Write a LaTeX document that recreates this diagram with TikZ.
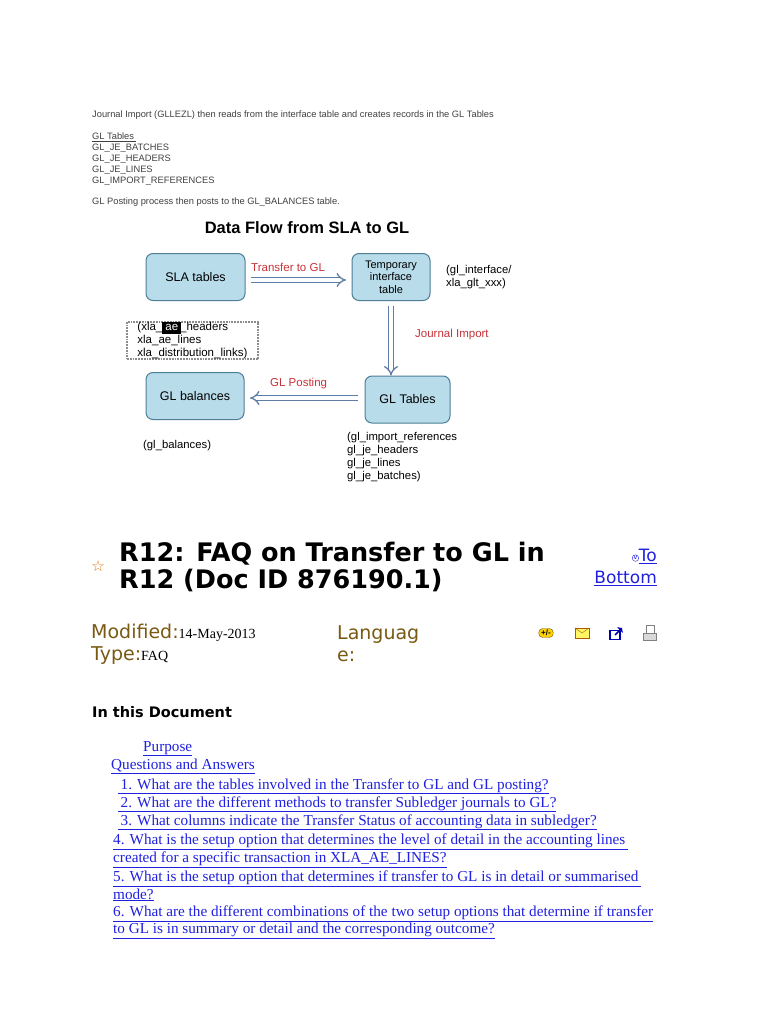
\documentclass[tikz,border=0pt]{standalone}
\usepackage{fontspec}
\setmainfont{Liberation Serif}
\newfontfamily\arialf{Liberation Sans}
\newfontfamily\dejaf{DejaVu Sans}
\usetikzlibrary{arrows.meta}
\definecolor{boxfill}{HTML}{B8DCEA}
\definecolor{boxline}{HTML}{4D7F97}
\definecolor{arr}{HTML}{5E7EA6}
\definecolor{redl}{HTML}{C8333A}
\definecolor{brown}{HTML}{7A5A12}
\definecolor{linkb}{HTML}{2020E0}
\begin{document}
\begin{tikzpicture}[x=1pt,y=-1pt,
  tbox/.style={draw=boxline,line width=1pt,fill=boxfill,rounded corners=7pt,align=center,font=\arialf\fontsize{12.5}{14}\selectfont},
  lbl/.style={anchor=west,inner sep=0pt,font=\arialf\fontsize{11.3}{13}\selectfont,align=left},
  red/.style={lbl,text=redl,font=\arialf\fontsize{11.5}{13}\selectfont},
  small/.style={anchor=west,inner sep=0pt,font=\arialf\fontsize{9.3}{11}\selectfont,text=black!75,align=left},
  dbl/.style={draw=arr,double=white,double distance=3.5pt,line width=1.3pt,-{Implies}},
  lnk/.style={anchor=base west,inner sep=0pt,font=\fontsize{15.2}{17.5}\selectfont,text=linkb,align=left},
  lnkm/.style={lnk,anchor=west}]
\useasboundingbox[fill=white] (0,0) rectangle (768,1024);
% top text
\node[small] (t1) at (92,115) {Journal Import (GLLEZL) then reads from the interface table and creates records in the GL Tables};
\node[small] (t2) at (92,159) {\underline{GL Tables\,}\\GL\_JE\_BATCHES\\GL\_JE\_HEADERS\\GL\_JE\_LINES\\GL\_IMPORT\_REFERENCES};
\node[small] (t3) at (92,202) {GL Posting process then posts to the GL\_BALANCES table.};
\node[font=\arialf\bfseries\fontsize{16.5}{18}\selectfont] (title) at (307,228) {Data Flow from SLA to GL};
% boxes
\node[tbox,minimum width=99pt,minimum height=47pt] (sla) at (195.5,277) {SLA tables};
\node[tbox,minimum width=78pt,minimum height=47pt,font=\arialf\fontsize{11}{12.5}\selectfont] (tmp) at (391,277) {Temporary\\interface\\table};
\node[tbox,minimum width=98pt,minimum height=47pt] (glb) at (195,396) {GL balances};
\node[tbox,minimum width=85pt,minimum height=47pt] (glt) at (407.5,399.5) {GL Tables};
\coordinate (a1) at (251,280);
\coordinate (a2) at (346,280);
\draw[dbl] (a1) -- (a2);
\draw[dbl] (tmp.south) ++(0,5) -- (glt.north -| tmp.south) ;
\coordinate (b1) at (358,398);
\coordinate (b2) at (250,398);
\draw[dbl] (b1) -- (b2);
\node[red] (l1) at (251,267) {Transfer to GL};
\node[red] (l2) at (415,335) {Journal Import};
\node[red] (l3) at (270,384) {GL Posting};
\node[lbl] (n1) at (446,277) {(gl\_interface/\\xla\_glt\_xxx)};
\node[draw=black!45,densely dotted,line width=1.8pt,inner sep=4pt,lbl,font=\arialf\fontsize{11.5}{13}\selectfont,minimum width=131pt] (xla) at (126,340.5) {(xla\_\colorbox{black}{\textcolor{white}{\rule{0pt}{6pt}ae}}\kern-1pt\_headers\\xla\_ae\_lines\\xla\_distribution\_links)};
\node[lbl] (n2) at (143,446) {(gl\_balances)};
\node[lbl,font=\arialf\fontsize{11.3}{13}\selectfont] (n3) at (347,457.5) {(gl\_import\_references\\gl\_je\_headers\\gl\_je\_lines\\gl\_je\_batches)};
% header
\node[text=orange!90!black,font=\dejaf\fontsize{15}{15}\selectfont,inner sep=0pt] (star) at (98,566) {☆};
\node[anchor=west,inner sep=0pt,font=\dejaf\bfseries\fontsize{25.5}{27}\selectfont,align=left] (h1) at (119,566.5) {R12: FAQ on Transfer to GL in\\R12 (Doc ID 876190.1)};
\node[anchor=east,inner sep=0pt,font=\dejaf\fontsize{17}{22}\selectfont,text=linkb,align=right] (tb) at (657,567) {\tikz[baseline=-3pt]\node[draw=linkb,circle,inner sep=0.3pt,font=\dejaf\fontsize{7}{7}\selectfont]{v};\underline{To}\\\underline{Bottom}};
\node[anchor=west,inner sep=0pt,font=\dejaf\fontsize{19}{22}\selectfont,text=brown,align=left] (mod) at (91,644) {Modified:{\rmfamily\fontsize{14}{14}\selectfont\color{black}14-May-2013}\\Type:{\rmfamily\fontsize{14}{14}\selectfont\color{black}FAQ}};
\node[anchor=west,inner sep=0pt,font=\dejaf\fontsize{19}{22}\selectfont,text=brown,align=left] (lang) at (337,644) {Languag\\e:};
% icons
\node[draw=brown,fill=yellow!70!orange,rounded corners=4pt,inner xsep=2.5pt,inner ysep=1.5pt,font=\arialf\bfseries\fontsize{8}{8}\selectfont] (i1) at (546,633) {+/-};
\node[draw=orange!70!black,fill=yellow!60,minimum width=14pt,minimum height=10pt,inner sep=0pt] (i2) at (582,633) {};
\draw[orange!70!black] (i2.north west) -- (i2.center) -- (i2.north east);
\node[draw=blue!70!black,line width=1.2pt,minimum width=10pt,minimum height=9pt,inner sep=0pt] (i3) at (615,635) {};
\draw[blue!70!black,line width=1.5pt,-{Triangle[length=3pt]}] (i3.center) -- ++(7,-7);
\node[draw=gray,fill=gray!30,minimum width=13pt,minimum height=7pt,inner sep=0pt] (i4) at (650,637) {};
\node[draw=gray,fill=white,minimum width=8pt,minimum height=8pt,inner sep=0pt,anchor=south] (i5) at (i4.north) {};
\node[anchor=west,inner sep=0pt,font=\dejaf\fontsize{14.5}{14}\selectfont] (ind) at (92,712) {\textbf{In this Document}};
% links
\node[lnk] (p) at (143,751) {\underline{Purpose}};
\node[lnk] (qa) at (111,769) {\underline{Questions and Answers}};
\node[lnk] (q1) at (118,789) {\underline{\,1. What are the tables involved in the Transfer to GL and GL posting?}};
\node[lnk] (q2) at (118,807) {\underline{\,2. What are the different methods to transfer Subledger journals to GL?}};
\node[lnk] (q3) at (118,825) {\underline{\,3. What columns indicate the Transfer Status of accounting data in subledger?}};
\node[lnkm] (q4) at (113,851) {\underline{4. What is the setup option that determines the level of detail in the accounting lines\,}\\\underline{created for a specific transaction in XLA\_AE\_LINES?}};
\node[lnkm] (q5) at (113,886) {\underline{5. What is the setup option that determines if transfer to GL is in detail or summarised\,}\\\underline{mode?}};
\node[lnkm] (q6) at (113,922.5) {\underline{6. What are the different combinations of the two setup options that determine if transfer}\\\underline{to GL is in summary or detail and the corresponding outcome?}};
\end{tikzpicture}
\end{document}
